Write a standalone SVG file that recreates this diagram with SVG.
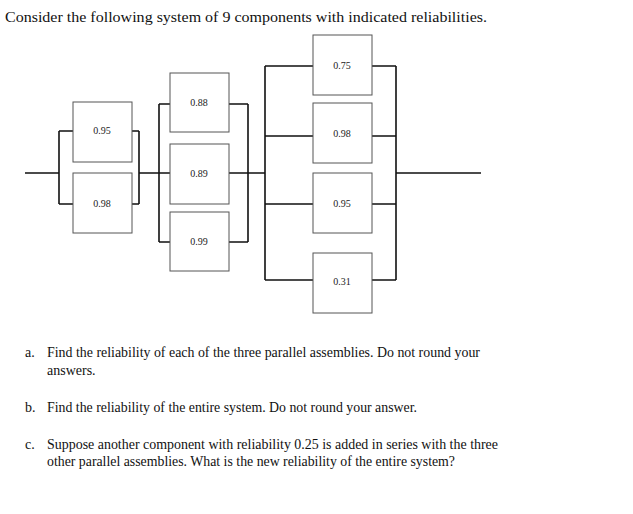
<svg xmlns="http://www.w3.org/2000/svg" width="633" height="514" viewBox="0 0 633 514">
<style>
.t{font-family:"Liberation Serif",serif;font-size:14px;fill:#111}
.b rect{fill:#fff;stroke:#555;stroke-width:1}
.b text{font-family:"Liberation Serif",serif;font-size:10px;fill:#222;text-anchor:middle}
.w{fill:none;stroke:#111;stroke-width:1.6}
</style>
<rect width="633" height="514" fill="#fff"/>
<text class="t" x="5" y="22" style="font-size:15px" textLength="482" lengthAdjust="spacingAndGlyphs">Consider the following system of 9 components with indicated reliabilities.</text>
<g id="connectors" class="w">
<path d="M25 173H59M59 131V204M59 131H73M59 204H73M132 131H139M132 204H139M139 131V204"/>
<path d="M139 173H170M159 104V242M159 104H170M159 242H170M229 104H248M229 173H248M229 242H248M248 104V242"/>
<path d="M248 173H265M265 66V280M265 66H313M265 136H313M265 204H313M265 280H313M372 66H396M372 136H396M372 204H396M372 280H396M396 66V280M396 173H481"/>
</g>
<g id="n1" class="b"><rect x="73" y="102" width="59" height="60"/><text x="102" y="134">0.95</text></g>
<g id="n2" class="b"><rect x="73" y="173" width="59" height="60"/><text x="102" y="207">0.98</text></g>
<g id="n3" class="b"><rect x="170" y="73" width="59" height="59"/><text x="199" y="106">0.88</text></g>
<g id="n4" class="b"><rect x="170" y="144" width="59" height="60"/><text x="199" y="177">0.89</text></g>
<g id="n5" class="b"><rect x="170" y="212" width="59" height="59"/><text x="199" y="245">0.99</text></g>
<g id="n6" class="b"><rect x="313" y="35" width="59" height="60"/><text x="342" y="69">0.75</text></g>
<g id="n7" class="b"><rect x="313" y="103" width="59" height="60"/><text x="342" y="137">0.98</text></g>
<g id="n8" class="b"><rect x="313" y="173" width="59" height="60"/><text x="342" y="207">0.95</text></g>
<g id="n9" class="b"><rect x="313" y="253" width="59" height="60"/><text x="342" y="285">0.31</text></g>
<text class="t" x="25" y="357">a.</text>
<text class="t" x="47" y="357" textLength="433" lengthAdjust="spacingAndGlyphs">Find the reliability of each of the three parallel assemblies. Do not round your</text>
<text class="t" x="47" y="375">answers.</text>
<text class="t" x="25" y="412">b.</text>
<text class="t" x="47" y="412" textLength="370" lengthAdjust="spacingAndGlyphs">Find the reliability of the entire system. Do not round your answer.</text>
<text class="t" x="25" y="449">c.</text>
<text class="t" x="47" y="449" textLength="451" lengthAdjust="spacingAndGlyphs">Suppose another component with reliability 0.25 is added in series with the three</text>
<text class="t" x="47" y="466" textLength="408" lengthAdjust="spacingAndGlyphs">other parallel assemblies. What is the new reliability of the entire system?</text>
</svg>
